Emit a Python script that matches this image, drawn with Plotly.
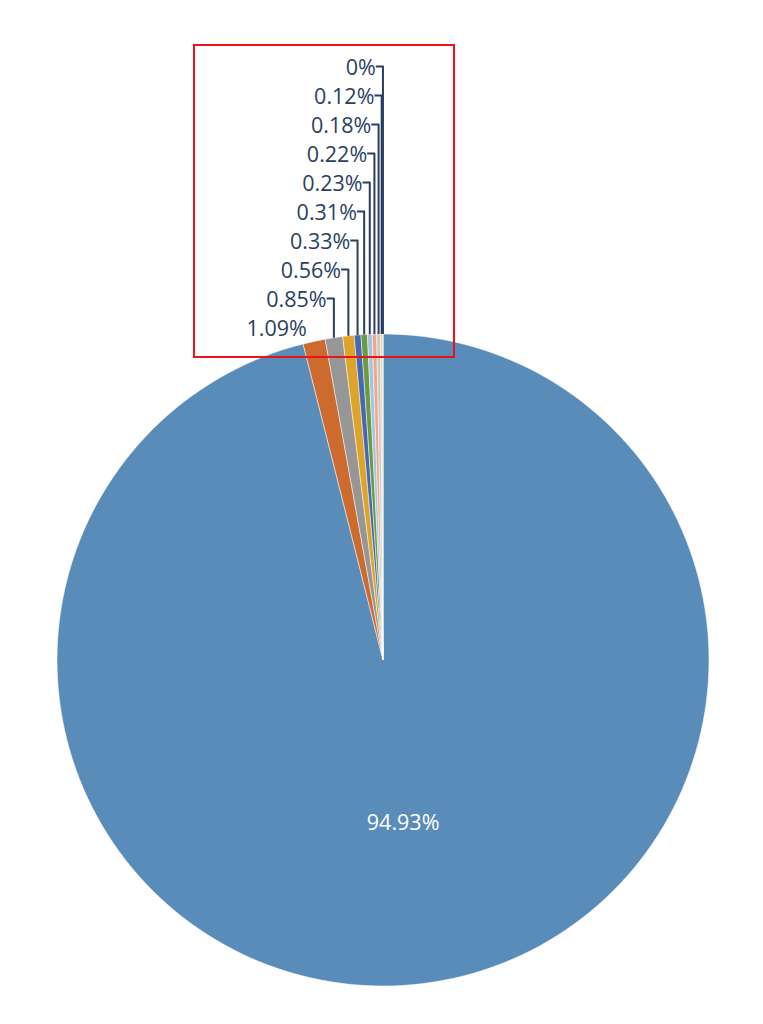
import plotly.graph_objects as go

labels = ["A", "B", "C", "D", "E", "F", "G", "H", "I", "J", "K"]
values = [94.93, 1.09, 0.85, 0.56, 0.33, 0.31, 0.23, 0.22, 0.18, 0.12, 0.004]
text_labels = ["94.93%", "1.09%", "0.85%", "0.56%", "0.33%", "0.31%", "0.23%", "0.22%", "0.18%", "0.12%", "0%"]
colors = ["#5A8CBA", "#CD6A2E", "#969696", "#DDA42A", "#4568B0", "#6C9A42",
          "#A4C2E3", "#EBA98C", "#C8C8C8", "#F2D29A", "#E8E0D0"]

fig = go.Figure(go.Pie(
    labels=labels,
    values=values,
    text=text_labels,
    textinfo="text",
    sort=False,
    direction="clockwise",
    rotation=0,
    automargin=False,
    marker=dict(colors=colors, line=dict(color="white", width=0.5)),
    textfont=dict(family="Open Sans", size=21.5),
    insidetextfont=dict(color="white"),
    outsidetextfont=dict(color="#2a3f5f"),
    showlegend=False,
    domain=dict(x=[0.0, 750 / 763], y=[1 - 978 / 1024, 1 - 326 / 1024]),
))

fig.update_layout(
    width=763, height=1024, autosize=False,
    margin=dict(l=0, r=0, t=0, b=0, pad=0, autoexpand=False),
    paper_bgcolor="white",
    showlegend=False,
    shapes=[dict(type="rect", xref="paper", yref="paper",
                 x0=186 / 763, x1=446 / 763, y0=1 - 349 / 1024, y1=1 - 37 / 1024,
                 line=dict(color="#E8141C", width=2))],
)

fig.write_html("out.html")
